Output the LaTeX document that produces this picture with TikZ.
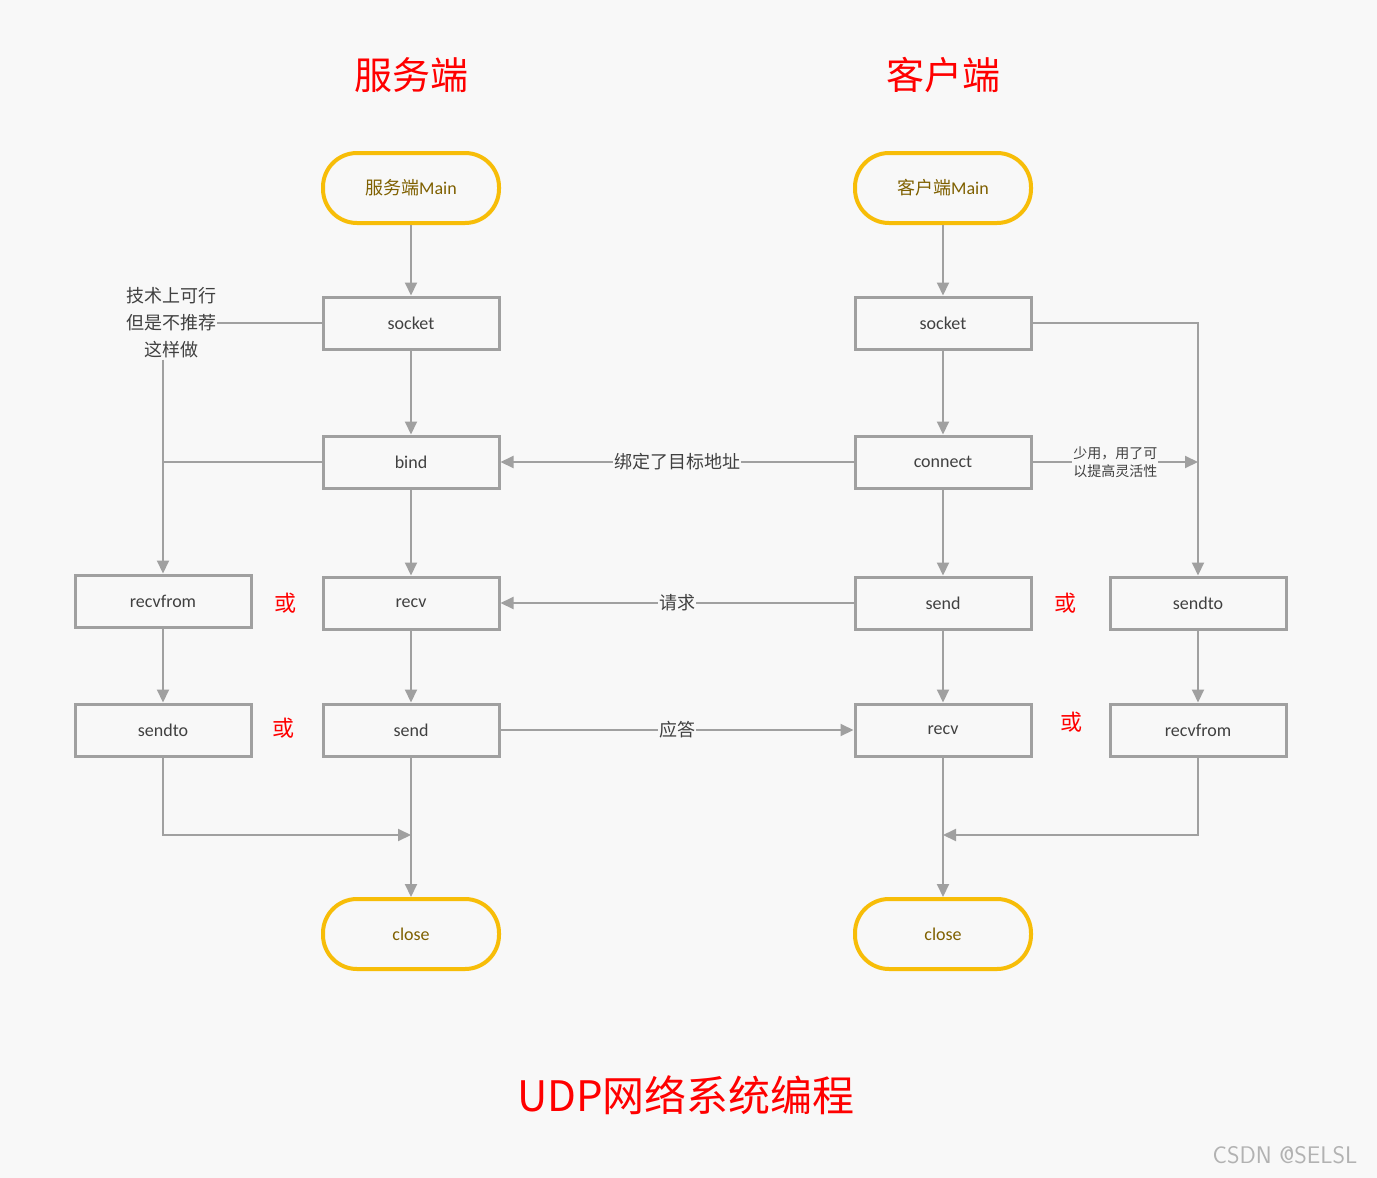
\documentclass[tikz,border=0pt]{standalone}
\usepackage{fontspec}
\setmainfont{Carlito}
\newfontfamily\cjk{Noto Sans CJK SC}
\usetikzlibrary{arrows.meta}
\definecolor{bg}{HTML}{F8F8F8}
\definecolor{gl}{HTML}{A0A0A0}
\definecolor{yb}{HTML}{F7BD08}
\definecolor{yt}{HTML}{7F6000}
\definecolor{tt}{HTML}{404040}
\begin{document}
\begin{tikzpicture}[x=1pt,y=-1pt,
 box/.style={draw=gl,line width=3pt,fill=bg,minimum width=176pt,minimum height=52pt,text=tt,font=\fontsize{18}{20}\selectfont},
 term/.style={draw=yb,line width=4pt,fill=bg,rounded corners=34pt,minimum width=176pt,minimum height=70pt,text=yt,font=\fontsize{18}{20}\selectfont},
 ln/.style={draw=gl,line width=2pt},
 ar/.style={ln,-{Triangle[length=13pt,width=12pt]}},
 lab/.style={fill=bg,inner sep=1pt,text=tt,font=\cjk\fontsize{18}{20}\selectfont},
 huo/.style={text=red,font=\cjk\fontsize{22}{24}\selectfont},
 ttl/.style={text=red,font=\cjk\fontsize{38}{40}\selectfont}]
\fill[bg] (0,0) rectangle (1377,1178);
\node[ttl] (t1) at (411,75) {服务端};
\node[ttl] (t2) at (943,75) {客户端};
\node[term] (sm) at (411,188) {{\cjk 服务端}Main};
\node[term] (cm) at (943,188) {{\cjk 客户端}Main};
\node[box] (ss) at (411,323) {socket};
\node[box] (cs) at (943,323) {socket};
\node[box] (bd) at (411,462) {bind};
\node[box] (cn) at (943,462) {connect};
\node[box] (rf1) at (163,601) {recvfrom};
\node[box] (rv1) at (411,603) {recv};
\node[box] (sd2) at (943,603) {send};
\node[box] (st2) at (1198,603) {sendto};
\node[box] (st1) at (163,730) {sendto};
\node[box] (sd1) at (411,730) {send};
\node[box] (rv2) at (943,730) {recv};
\node[box] (rf2) at (1198,730) {recvfrom};
\node[term] (cl1) at (411,934) {close};
\node[term] (cl2) at (943,934) {close};
\node[huo] (h1) at (285,603) {或};
\node[huo] (h2) at (283,728) {或};
\node[huo] (h3) at (1065,603) {或};
\node[huo] (h4) at (1071,722) {或};
\node[lab,align=center,font=\cjk\fontsize{18}{27}\selectfont] (nt) at (171,323) {技术上可行\\但是不推荐\\这样做};
\coordinate (j1) at (163,462);
\coordinate (j2) at (411,835);
\coordinate (j3) at (943,835);
\coordinate (k1) at (163,835);
\coordinate (k2) at (1198,835);
\coordinate (c1) at (1198,323);
\coordinate (c2) at (1198,462);
\draw[ar] (sm) -- (ss);
\draw[ar] (ss) -- (bd);
\draw[ar] (bd) -- (rv1);
\draw[ar] (rv1) -- (sd1);
\draw[ar] (sd1) -- (cl1);
\draw[ar] (cm) -- (cs);
\draw[ar] (cs) -- (cn);
\draw[ar] (cn) -- (sd2);
\draw[ar] (sd2) -- (rv2);
\draw[ar] (rv2) -- (cl2);
\draw[ln] (ss) -- (nt);
\draw[ar] (nt.south -| rf1) -- (rf1);
\draw[ln] (bd) -- (j1);
\draw[ar] (rf1) -- (st1);
\draw[ar] (st1) |- (j2);
\draw[ar] (cs) -| (st2);
\draw[ar] (cn) -- node[lab,font=\cjk\fontsize{14}{18}\selectfont,align=left]{少用，用了可\\以提高灵活性} (c2);
\draw[ar] (st2) -- (rf2);
\draw[ar] (rf2) |- (j3);
\draw[ar] (cn) -- node[lab]{绑定了目标地址} (bd);
\draw[ar] (sd2) -- node[lab]{请求} (rv1);
\draw[ar] (sd1) -- node[lab]{应答} (rv2);
\node[text=red,font=\cjk\fontsize{42}{44}\selectfont] (ut) at (686,1095) {UDP网络系统编程};
\node[text=gray!60,font=\fontsize{24}{26}\selectfont\sffamily] (wm) at (1285,1155) {CSDN @SELSL};
\end{tikzpicture}
\end{document}
